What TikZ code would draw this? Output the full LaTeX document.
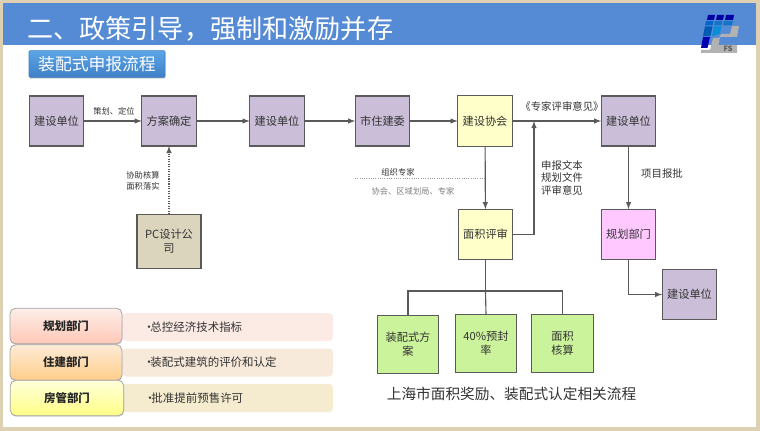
\documentclass[tikz,border=0pt]{standalone}
\usepackage{fontspec}
\setmainfont{Noto Sans CJK SC}
\usetikzlibrary{shadows}
\definecolor{bgtan}{HTML}{DDD0B3}
\definecolor{barblue}{HTML}{558BD5}
\definecolor{linegray}{HTML}{5A5A5A}
\definecolor{txtdark}{HTML}{333333}
\definecolor{headtop}{HTML}{5CA6E6}
\definecolor{headbot}{HTML}{3F7FC6}
\definecolor{tabra}{HTML}{FDEEE9}
\definecolor{tabrb}{HTML}{FFC8B6}
\definecolor{taboa}{HTML}{FDEBD6}
\definecolor{tabob}{HTML}{FFCE8A}
\definecolor{tabya}{HTML}{FFFFDC}
\definecolor{tabyb}{HTML}{FFFF86}
\tikzset{
    mybox/.style = {draw=linegray, line width=0.8pt, inner sep=0pt, outer sep=0pt, align=center, text=txtdark, font=\fontsize{8.4pt}{10.5pt}\selectfont},
    myboxp/.style = {mybox, fill={rgb,255:red,203;green,190;blue,216}, minimum width=41pt, minimum height=37.5pt},
    myboxy/.style = {mybox, fill={rgb,255:red,255;green,255;blue,201}, minimum width=41pt, minimum height=38pt},
    myboxm/.style = {mybox, fill={rgb,255:red,255;green,201;blue,255}, minimum width=41pt, minimum height=38pt},
    myboxt/.style = {mybox, fill={rgb,255:red,219;green,213;blue,190}, minimum width=48pt, minimum height=41pt},
    myboxg/.style = {mybox, fill={rgb,255:red,203;green,243;blue,155}, minimum width=46pt, minimum height=43pt},
    mytab/.style = {draw=gray!70, rounded corners=4pt, line width=0.6pt, inner sep=0pt, align=center, minimum width=84pt, minimum height=26.5pt, font=\fontsize{8.6pt}{10pt}\selectfont\bfseries, text=black!85, drop shadow={shadow xshift=0.3pt, shadow yshift=-0.8pt, opacity=0.35}},
    mybar/.style = {rounded corners=3pt, inner sep=0pt, anchor=west, minimum width=158pt, minimum height=21pt},
    mybullet/.style = {anchor=west, inner sep=0pt, text=txtdark, font=\fontsize{8.6pt}{10pt}\selectfont},
    mylabel/.style = {inner sep=0pt, align=left, text=txtdark, font=\fontsize{7.8pt}{9.6pt}\selectfont},
    mysmall/.style = {inner sep=0pt, align=center, text=txtdark, font=\fontsize{6.2pt}{8pt}\selectfont},
    edgen/.style = {-latex, line width=0.85pt, linegray},
    edgel/.style = {-, line width=0.85pt, linegray},
    edged/.style = {-latex, line width=0.85pt, linegray, densely dotted},
    logob/.style = {fill=#1, draw=none}
}
\begin{document}
\begin{tikzpicture}[x=0.75pt,y=-0.75pt]
\useasboundingbox (0,0) rectangle (760,431);
\fill[bgtan] (0,0) rectangle (760,431);
\fill[white] (3,3) rectangle (756,427);
\fill[barblue] (3,3) rectangle (756,45);
%
\node[anchor=west,inner sep=0pt,text=white,font=\fontsize{19.6pt}{24pt}\selectfont] at (27,29) (title) {二、政策引导，强制和激励并存};
\node[anchor=center,inner sep=0pt,minimum width=102pt,minimum height=20pt,top color=headtop,bottom color=headbot,draw=headbot,line width=0.4pt,rounded corners=0.8pt,text=white,font=\fontsize{12.6pt}{15pt}\selectfont,drop shadow={shadow xshift=0.3pt,shadow yshift=-1pt,opacity=0.4}] at (97,64) (head) {装配式申报流程};
% logo
\fill[gray!60] (732,26) -- (739,26) -- (737,37) -- (720,37) -- (718.5,45) -- (737,45) -- (737,53) -- (701,53) -- (701,50) -- (710,50) -- (713,38) -- (719,38) -- (721,34) -- (730,34) -- cycle;
\fill[logob={blue!65!black}] (708,15) -- (715,15) -- (714,20) -- (707,20) -- cycle;
\fill[logob={blue!65!black}] (717,15) -- (724,15) -- (723,20) -- (716,20) -- cycle;
\fill[logob={blue!65!black}] (726,15) -- (734,15) -- (733,20) -- (725,20) -- cycle;
\fill[logob={blue!50!cyan!80!black}] (706,21) -- (713.5,21) -- (712.5,25.5) -- (705,25.5) -- cycle;
\fill[logob={cyan!55!blue}] (715,21) -- (722.5,21) -- (721.5,25.5) -- (714,25.5) -- cycle;
\fill[logob={cyan!55!blue}] (724,21) -- (733,21) -- (732,25.5) -- (723,25.5) -- cycle;
\fill[logob={blue!50!cyan!70!black}] (705,26.5) -- (712.5,26.5) -- (710.5,36) -- (703,36) -- cycle;
\fill[logob={cyan!75!blue}] (714,26.5) -- (721.5,26.5) -- (719.5,34) -- (712,36) -- cycle;
\fill[logob={blue!70!black}] (703,37) -- (710,37) -- (707.5,48) -- (701,48) -- cycle;
\node[inner sep=0pt,text=black!65,font=\fontsize{5.5pt}{6pt}\selectfont\bfseries\itshape] at (728,49) (fslogo) {FS};
%
\node[myboxp] at (56.5,121) (js1) {建设单位};
\node[myboxp] at (169,121) (fa) {方案确定};
\node[myboxp] at (277,121) (js2) {建设单位};
\node[myboxp] at (382.5,121) (sz) {市住建委};
\node[myboxy] at (485,121) (xh) {建设协会};
\node[myboxp] at (628.5,121) (js3) {建设单位};
\node[myboxt] at (169,241.5) (pc) {PC设计公\\司};
\node[myboxy] at (485.5,234.5) (mj) {面积评审};
\node[myboxm] at (628.5,234.5) (gh) {规划部门};
\node[myboxp] at (689.5,294.5) (js4) {建设单位};
\node[myboxg] at (408,344.5) (g1) {装配式方\\案};
\node[myboxg] at (486,343.5) (g2) {40\%预封\\率};
\node[myboxg] at (562.5,343.5) (g3) {面积\\核算};
%
\coordinate (jn) at (534,121);
\coordinate (tj) at (485.5,291);
\coordinate (dl) at (355,178.5);
\coordinate (dr) at (485,178.5);
%
\draw[edgen] (js1) -- (fa);
\draw[edgen] (fa) -- (js2);
\draw[edgen] (js2) -- (sz);
\draw[edgen] (sz) -- (xh);
\draw[edgen] (xh) -- (js3);
\draw[edged] (pc) -- (fa);
\draw[edgen] (xh) -- (mj);
\draw[edgen] (mj.east) -| (jn);
\draw[edgen] (js3) -- (gh);
\draw[edgen] (gh.south) |- (js4.west);
\draw[edgel] (mj.south) -- (tj);
\draw[edgel] (tj) -| (g1.north);
\draw[edgel] (tj) -- (g2.north);
\draw[edgel] (tj) -| (g3.north);
\draw[line width=0.7pt,gray!80,densely dotted] (dl) -- (dr);
%
\node[mysmall] at (114,111.5) (l1) {策划、定位};
\node[mysmall] at (143,181) (l2) {协助核算\\面积落实};
\node[mysmall] at (398,172) (l3) {组织专家};
\node[mysmall,text=gray] at (413,191) (l4) {协会、区域划局、专家};
\node[mylabel] at (562,106.5) (l5) {《专家评审意见》};
\node[mylabel] at (562,178) (l6) {申报文本\\规划文件\\评审意见};
\node[mylabel] at (662,174) (l7) {项目报批};
\node[inner sep=0pt,text=txtdark,font=\fontsize{11pt}{13pt}\selectfont] at (511.5,394) (cap) {上海市面积奖励、装配式认定相关流程};
%
\node[mybar,fill={rgb,255:red,252;green,234;blue,228}] at (122,327) (b1) {};
\node[mybar,fill={rgb,255:red,248;green,234;blue,218}] at (122,362.5) (b2) {};
\node[mybar,fill={rgb,255:red,245;green,236;blue,207}] at (122,398) (b3) {};
\node[mybullet] at (143,327) (t1) {•\kern-3.2pt 总控经济技术指标};
\node[mybullet] at (143,362.5) (t2) {•\kern-3.2pt 装配式建筑的评价和认定};
\node[mybullet] at (144,398) (t3) {•\kern-3.2pt 批准提前预售许可};
\node[mytab,top color=tabra,bottom color=tabrb] at (66,326) (tab1) {规划部门};
\node[mytab,top color=taboa,bottom color=tabob] at (66,362.5) (tab2) {住建部门};
\node[mytab,top color=tabya,bottom color=tabyb,minimum width=85pt] at (67,398) (tab3) {房管部门};
\end{tikzpicture}
\end{document}
